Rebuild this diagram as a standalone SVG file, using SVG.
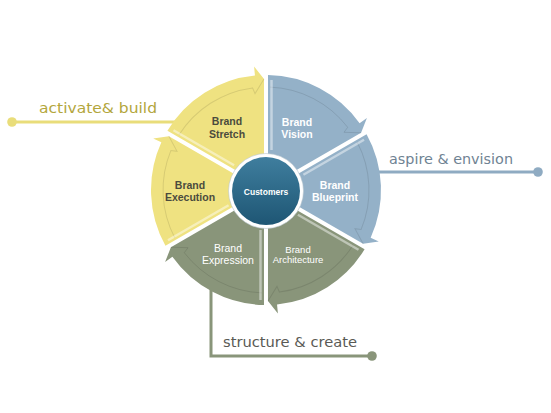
<svg xmlns="http://www.w3.org/2000/svg" width="551" height="413" viewBox="0 0 551 413">
<style>
.lbl{font-family:"DejaVu Sans","Liberation Sans",sans-serif;font-size:14.5px}
.nt{font-family:"Liberation Sans",Arial,sans-serif;text-anchor:middle}
.dark{fill:#4B4B3E;font-weight:bold;font-size:10.5px}
.wb{fill:#FFFFFF;font-weight:bold;font-size:10.5px}
.wr{fill:#FFFFFF;font-size:10.5px}
.yel{fill:#EFE281}
.blu{fill:#94B1C8}
.grn{fill:#89957A}
.hl{stroke:#FFFFFF;stroke-opacity:0.45;stroke-width:2.5;fill:none}
.bev{fill:none;stroke:#000;stroke-opacity:0.1;stroke-width:1}
</style>
<defs>
<path id="seg" d="M 2,-3.46 L 2,-114.98 A 115 115 0 0 1 93.6,-66.8 L 100.9,-72 L 95.1,-57.2 Z"/>
<path id="bevel" d="M 4,-102.9 A 103 103 0 0 1 81.7,-62.7 L 78,-57.7 L 95.1,-57.2"/>
<path id="hil" d="M 5.5,-40 L 5.5,-110"/>
<linearGradient id="cg" x1="0" y1="0" x2="0" y2="1">
<stop offset="0" stop-color="#3F7E9E"/>
<stop offset="1" stop-color="#1E5674"/>
</linearGradient>
</defs>
<g id="connectors">
<g id="c-activate">
<line x1="12" y1="122" x2="190" y2="122" stroke="#E9DD7A" stroke-width="3"/>
<circle cx="12" cy="122" r="4.8" fill="#E9DD7A"/>
</g>
<g id="c-aspire">
<line x1="365" y1="172" x2="538" y2="172" stroke="#8FABC2" stroke-width="3"/>
<circle cx="538" cy="172" r="4.8" fill="#8FABC2"/>
</g>
<g id="c-structure">
<polyline points="211,272 211,356 372,356" fill="none" stroke="#89957A" stroke-width="3"/>
<circle cx="372" cy="356" r="4.8" fill="#89957A"/>
</g>
</g>
<g id="wheel" transform="translate(266,190)">
<g id="n-vision" transform="rotate(0)">
<use href="#seg" class="blu"/><use href="#bevel" class="bev"/><use href="#hil" class="hl"/>
</g>
<g id="n-blueprint" transform="rotate(60)">
<use href="#seg" class="blu"/><use href="#bevel" class="bev"/><use href="#hil" class="hl"/>
</g>
<g id="n-architecture" transform="rotate(120)">
<use href="#seg" class="grn"/><use href="#bevel" class="bev"/><use href="#hil" class="hl"/>
</g>
<g id="n-expression" transform="rotate(180)">
<use href="#seg" class="grn"/><use href="#bevel" class="bev"/><use href="#hil" class="hl"/>
</g>
<g id="n-execution" transform="rotate(240)">
<use href="#seg" class="yel"/><use href="#bevel" class="bev"/><use href="#hil" class="hl"/>
</g>
<g id="n-stretch" transform="rotate(300)">
<use href="#seg" class="yel"/><use href="#bevel" class="bev"/><use href="#hil" class="hl"/>
</g>
</g>
<g id="labels-nodes">
<text class="nt dark" x="227" y="125">Brand</text>
<text class="nt dark" x="227" y="138">Stretch</text>
<text class="nt wb" x="297" y="126">Brand</text>
<text class="nt wb" x="297" y="138">Vision</text>
<text class="nt dark" x="190" y="189">Brand</text>
<text class="nt dark" x="190" y="201">Execution</text>
<text class="nt wb" x="335" y="189">Brand</text>
<text class="nt wb" x="335" y="201">Blueprint</text>
<text class="nt wr" x="228" y="252">Brand</text>
<text class="nt wr" x="228" y="264">Expression</text>
<text class="nt wr" x="298" y="253" style="font-size:9.5px">Brand</text>
<text class="nt wr" x="298" y="263" style="font-size:9.5px">Architecture</text>
</g>
<g id="n-customers">
<circle cx="266" cy="191" r="37.5" fill="#FFFFFF" stroke="#B8C6CE" stroke-width="0.6"/>
<circle cx="266" cy="191" r="34" fill="url(#cg)"/>
<text class="nt" x="266" y="194.5" fill="#FFFFFF" style="font-size:8.5px;font-weight:bold">Customers</text>
</g>
<g id="labels-outer">
<text class="lbl" x="39" y="113" fill="#B3A63C" textLength="118" lengthAdjust="spacingAndGlyphs">activate&amp; build</text>
<text class="lbl" x="389" y="164" fill="#6F8393" textLength="124" lengthAdjust="spacingAndGlyphs">aspire &amp; envision</text>
<text class="lbl" x="223" y="347" fill="#5A5A55" textLength="134" lengthAdjust="spacingAndGlyphs">structure &amp; create</text>
</g>
</svg>
